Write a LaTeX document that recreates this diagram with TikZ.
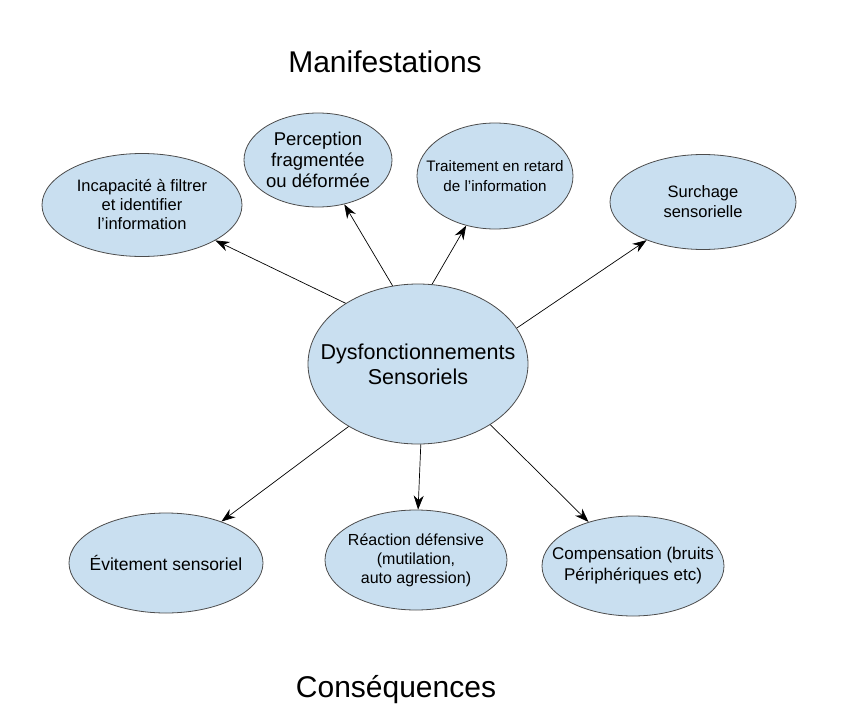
\documentclass[tikz,border=0pt]{standalone}
\usepackage{fontspec}
\setmainfont{Liberation Sans}
\usetikzlibrary{shapes.geometric,arrows.meta}
\newcommand{\fs}[1]{\fontsize{#1}{#1}\selectfont}
\begin{document}
\begin{tikzpicture}[x=1pt,y=-1pt,
  el/.style 2 args={ellipse,draw=black!70,fill=elfill,line width=0.8pt,minimum width=2*#1,minimum height=#2,inner sep=0pt},
  tx/.style={align=center,inner sep=0pt},
  ar/.style={-{Stealth[length=14pt,width=10pt]},line width=0.7pt}]
\definecolor{elfill}{HTML}{C9DFF0}
\useasboundingbox (0,0) rectangle (854,712);
\node[font=\fs{30}] (t1) at (385,62) {Manifestations};
\node[font=\fs{30}] (t2) at (396,690) {Conséquences};
\node[el={110pt}{160pt}] (c) at (418,364) {};
\node[el={100pt}{103pt}] (a) at (142,205) {};
\node[el={74pt}{94pt}] (b) at (318,160) {};
\node[el={78pt}{106pt}] (d) at (495,176) {};
\node[el={93pt}{95pt}] (e) at (703,202) {};
\node[el={97pt}{100pt}] (f) at (166,563) {};
\node[el={91pt}{100pt}] (g) at (416,560) {};
\node[el={91pt}{100pt}] (h) at (633,566) {};
\node[tx,font={\fontsize{21.5}{25}\selectfont}] (tc) at (c) {Dysfonctionnements\\Sensoriels};
\node[tx,font={\fontsize{16.5}{19}\selectfont}] (ta) at (a) {Incapacité à filtrer\\et identifier\\l’information};
\node[tx,font={\fontsize{18.5}{21}\selectfont}] (tb) at (b) {Perception\\fragmentée\\ou déformée};
\node[tx,font={\fontsize{15.2}{20}\selectfont}] (td) at (d) {Traitement en retard\\de l'information};
\node[tx,font={\fontsize{16.5}{20}\selectfont}] (te) at (e) {Surchage\\sensorielle};
\node[tx,font={\fontsize{17.5}{21}\selectfont}] (tf) at (f) {Évitement sensoriel};
\node[tx,font={\fontsize{16}{19}\selectfont}] (tg) at (g) {Réaction défensive\\(mutilation,\\auto agression)};
\node[tx,font={\fontsize{17}{21}\selectfont}] (th) at (h) {Compensation (bruits\\Périphériques etc)};
\draw[ar] (c.140) -- (a);
\draw[ar] (c.108) -- (b);
\draw[ar] (c.80) -- (d);
\draw[ar] (c.20) -- (e);
\draw[ar] (c.222) -- (f);
\draw[ar] (c.272) -- (g);
\draw[ar] (c.320) -- (h);
\end{tikzpicture}
\end{document}
